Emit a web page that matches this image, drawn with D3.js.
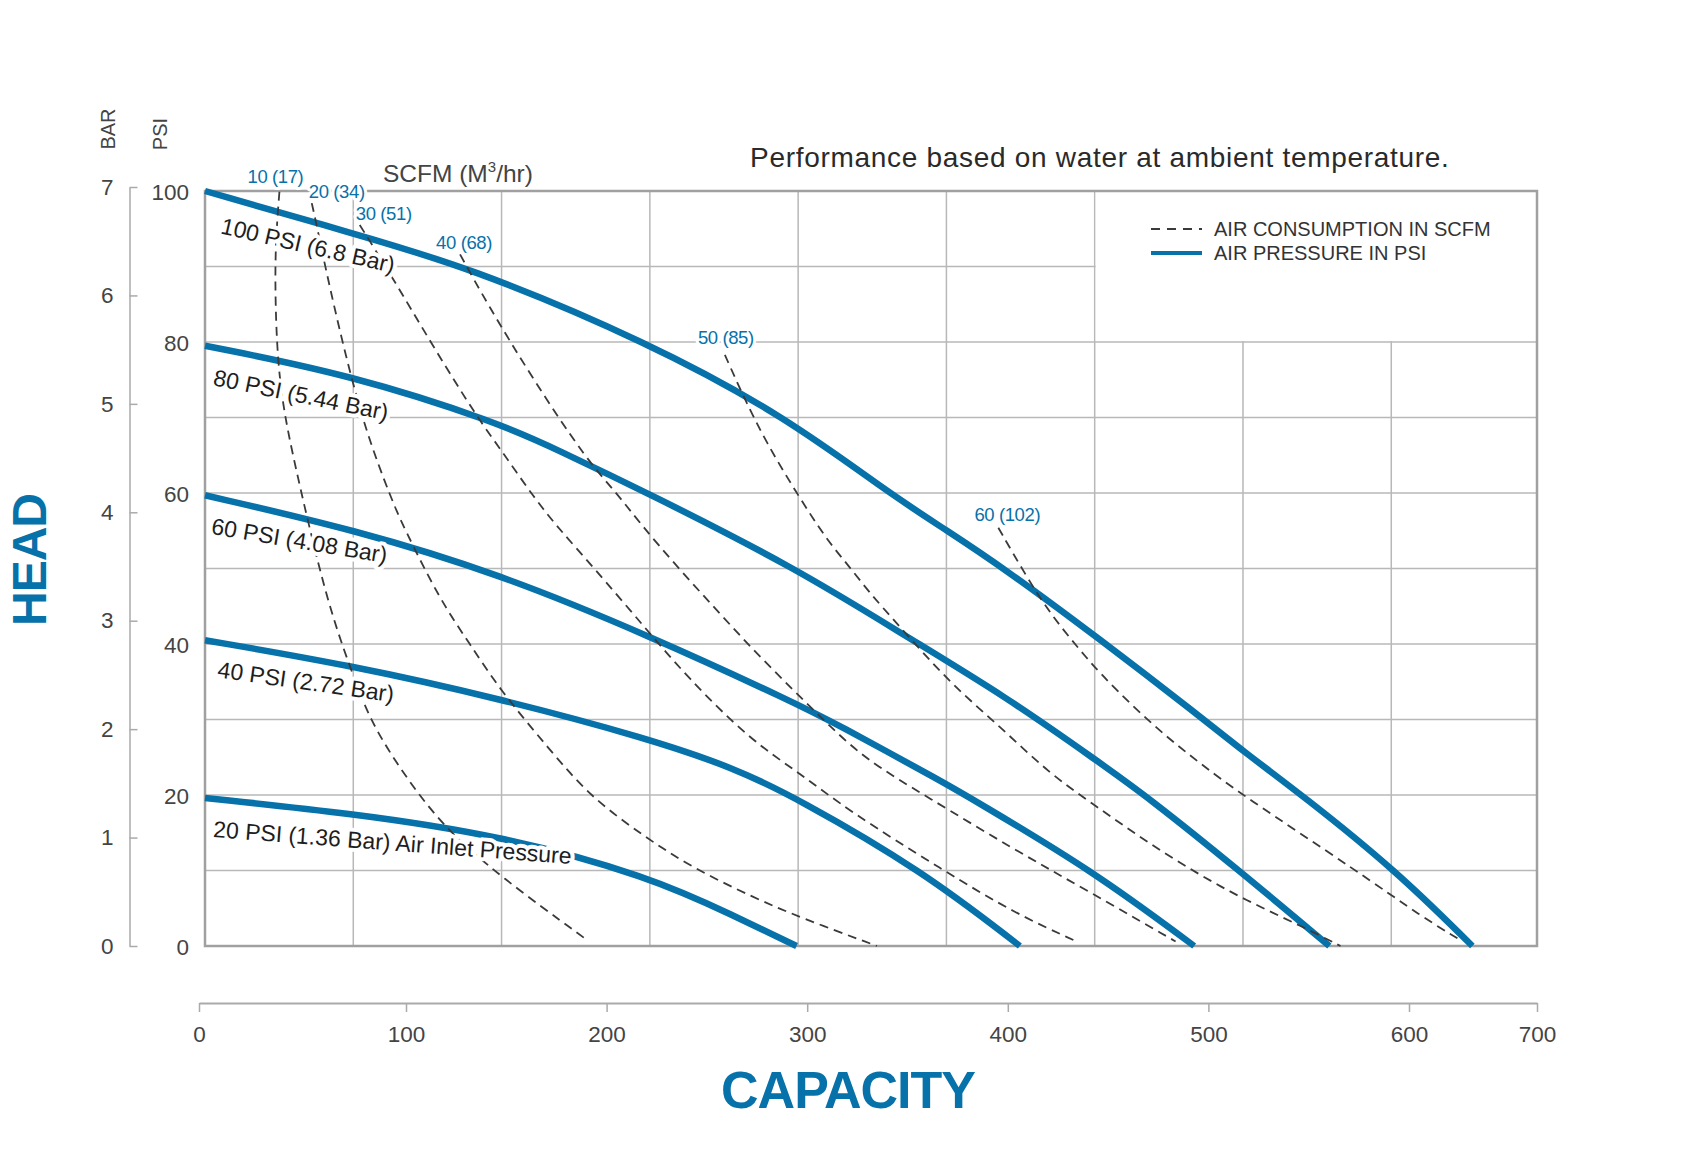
<!DOCTYPE html>
<html>
<head>
<meta charset="utf-8">
<script src="https://cdnjs.cloudflare.com/ajax/libs/d3/7.8.5/d3.min.js"></script>
<style>
body { margin: 0; background: #fff; }
svg text { font-family: "Liberation Sans", Arial, sans-serif; }
</style>
</head>
<body>
<div id="chart"></div>
<script>
// axes
var capacityTicks = [0, 100, 200, 300, 400, 500, 600, 700];
var psiTicks = [0, 20, 40, 60, 80, 100];
var barTicks = [0, 1, 2, 3, 4, 5, 6, 7];
var psiGrid = [10, 20, 30, 40, 50, 60, 70, 80, 90];
var gpmGrid = [20, 40, 60, 80, 100, 120, 140, 160];
var LPM_PER_GPM = 3.785;

// air pressure curves, [capacity, head psi]
var pressureNames = ["100 PSI (6.8 Bar)", "80 PSI (5.44 Bar)", "60 PSI (4.08 Bar)", "40 PSI (2.72 Bar)", "20 PSI (1.36 Bar) Air Inlet Pressure"];
var psi100 = [[0,100],[74,94.5],[134,90],[226,80],[297,70],[349,60],[379,55],[408,50],[455,41],[508,30.4],[531,25.6],[560,20],[608,10],[647,0]];
var psi80 = [[0,79.5],[74,75.7],[150,69.3],[180,65.7],[226,60],[302,50],[358,41],[409,33],[455,24.6],[481,19.8],[528,10],[574,0]];
var psi60 = [[0,59.7],[77,55.1],[150,49.3],[226,41.2],[302,32.1],[321,29.6],[379,21.4],[392,19.4],[453,10],[505,0]];
var psi40 = [[0,40.5],[74,37.2],[150,32.8],[226,27.5],[270,23.6],[302,19.6],[366,10],[416,0]];
var psi20 = [[0,19.6],[74,17.6],[150,14.7],[227,9.2],[270,4],[302,0]];

// air consumption curves, [capacity, head psi]
var scfmNames = ["10 (17)", "20 (34)", "30 (51)", "40 (68)", "50 (85)", "60 (102)"];
var scfm10 = [[38,99.9],[37,96.7],[35.6,90.5],[36.4,79.9],[39.3,72],[46,63.5],[62,45.8],[74,37],[84,29.9],[101,22.9],[121.5,15.8],[150.6,9.2],[195,0.8]];
var scfm20 = [[54.5,98.4],[57,95.5],[61.5,89.8],[70.6,79.4],[81.7,68.4],[95.3,59.1],[101.2,55.6],[120,45.8],[135,40.1],[150.6,33.9],[176,26],[196.5,19.8],[223.7,14.6],[248.5,10.4],[281,6.3],[303.7,3.8],[343,0]];
var scfm30 = [[79,95.5],[94.4,89.1],[116.5,79.4],[138.7,70.1],[152.3,65.3],[167.6,59.5],[181.2,55.1],[196.5,50.7],[225.5,41.9],[245.9,35.7],[278.2,27.3],[303.7,22.9],[328,18],[377,10],[413.6,4.3],[445,0.6]];
var scfm40 = [[130.2,91.6],[143.8,85.2],[167.6,75],[194.8,64.4],[210.2,60],[222,56],[240.8,50.3],[261.2,44.5],[279.9,39.2],[300.3,33.9],[319,29.1],[337.8,24.6],[368.4,19.8],[413.6,12.7],[450,7.4],[495.5,0.6]];
var scfm50 = [[265.4,78.3],[274.8,72.8],[286.7,66.6],[302,60],[317.4,53.8],[327.6,50.7],[339.5,46.7],[353,42.8],[380.3,34.8],[405.8,29.1],[430.7,22.9],[455,18.5],[479.6,14],[506.4,9.6],[531,6.1],[560,2.6],[579.7,0]];
var scfm60 = [[405,55.4],[419.4,48.9],[431.3,44.1],[445,39.7],[456.9,36.1],[473.9,31.7],[490.9,27.7],[508,24.2],[528.3,20.2],[589.5,9.7],[621,3.9],[642,0.6]];

var pressureCurves = [psi100, psi80, psi60, psi40, psi20];
var scfmCurves = [scfm10, scfm20, scfm30, scfm40, scfm50, scfm60];

// layout
var width = 1695, height = 1149;
var plot = {left: 205, right: 1537, top: 191, bottom: 946};
var blue = "#0771aa";
var pressureLabelPos = [[52.6, 92.8, 13], [49, 73, 11.5], [48.2, 53.7, 9.5], [51.5, 35, 8], [95.7, 13.7, 4.3]];
var scfmLabelOffset = [[-4, -15], [25, -12], [24, -11], [4, -12], [1, -17], [9, -13]];

var svg = d3.select("#chart").append("svg")
    .attr("width", width)
    .attr("height", height);

var x = d3.scaleLinear().domain([0, 680]).range([plot.left, plot.right]);
var y = d3.scaleLinear().domain([0, 100]).range([plot.bottom, plot.top]);
var yBar = d3.scaleLinear().domain([0, 7]).range([plot.bottom, 187]);
// the printed capacity scale is not evenly spaced at its ends
var xCap = d3.scaleLinear().domain([0, 100, 600, 700]).range([199, 406, 1409, 1537]);

// grid
var grid = svg.append("g").attr("stroke", "#b8b8b8").attr("stroke-width", 1.5);
grid.selectAll(".gy").data(psiGrid).enter().append("line")
    .attr("x1", plot.left).attr("x2", plot.right)
    .attr("y1", function(d){ return y(d); })
    .attr("y2", function(d){ return y(d); });
grid.selectAll(".gx").data(gpmGrid).enter().append("line")
    .attr("x1", function(d){ return x(d * LPM_PER_GPM); })
    .attr("x2", function(d){ return x(d * LPM_PER_GPM); })
    .attr("y1", plot.top).attr("y2", plot.bottom);

// blank area behind the legend
svg.append("rect")
    .attr("x", x(120 * LPM_PER_GPM) + 1)
    .attr("y", plot.top)
    .attr("width", plot.right - x(120 * LPM_PER_GPM) - 1)
    .attr("height", y(80) - plot.top - 1)
    .attr("fill", "#fff");

svg.append("rect")
    .attr("x", plot.left).attr("y", plot.top)
    .attr("width", plot.right - plot.left)
    .attr("height", plot.bottom - plot.top)
    .attr("fill", "none")
    .attr("stroke", "#a0a0a0")
    .attr("stroke-width", 2.5);

var line = d3.line()
    .x(function(d){ return x(d[0]); })
    .y(function(d){ return y(d[1]); })
    .curve(d3.curveBasis);

svg.append("g").selectAll("path")
    .data(pressureCurves)
    .enter().append("path")
    .attr("d", line)
    .attr("fill", "none")
    .attr("stroke", blue)
    .attr("stroke-width", 6.5);

svg.append("g").selectAll("path")
    .data(scfmCurves)
    .enter().append("path")
    .attr("d", line)
    .attr("fill", "none")
    .attr("stroke", "#3a3a3a")
    .attr("stroke-width", 1.8)
    .attr("stroke-dasharray", "9,6");

// pressure labels
svg.append("g").selectAll("text")
    .data(pressureNames)
    .enter().append("text")
    .attr("transform", function(d, i){
        var p = pressureLabelPos[i];
        return "translate(" + x(p[0]) + "," + y(p[1]) + ") rotate(" + p[2] + ")";
    })
    .attr("text-anchor", "middle")
    .attr("dominant-baseline", "central")
    .attr("font-size", 23)
    .attr("fill", "#1e1e1e")
    .attr("stroke", "#fff")
    .attr("stroke-width", 8)
    .attr("stroke-linejoin", "round")
    .attr("paint-order", "stroke")
    .text(function(d){ return d; });

// scfm labels
svg.append("g").selectAll("text")
    .data(scfmNames)
    .enter().append("text")
    .attr("x", function(d, i){ return x(scfmCurves[i][0][0]) + scfmLabelOffset[i][0]; })
    .attr("y", function(d, i){ return y(scfmCurves[i][0][1]) + scfmLabelOffset[i][1]; })
    .attr("text-anchor", "middle")
    .attr("dominant-baseline", "central")
    .attr("font-size", 18.5)
    .attr("letter-spacing", -0.4)
    .attr("fill", blue)
    .attr("stroke", "#fff")
    .attr("stroke-width", 6)
    .attr("stroke-linejoin", "round")
    .attr("paint-order", "stroke")
    .text(function(d){ return d; });

// psi axis (labels only)
var psiAxis = svg.append("g")
    .attr("transform", "translate(189,0)")
    .call(d3.axisLeft(y).tickValues(psiTicks).tickSize(0).tickPadding(0));
psiAxis.select(".domain").remove();

// bar axis
var barAxis = svg.append("g")
    .attr("transform", "translate(129.5,0)")
    .call(d3.axisLeft(yBar).tickValues(barTicks).tickFormat(d3.format("d"))
        .tickSize(-8).tickSizeOuter(0).tickPadding(16));
barAxis.selectAll("line").attr("stroke", "#aaa").attr("stroke-width", 1.5);
barAxis.select(".domain").attr("stroke", "#aaa").attr("stroke-width", 1.5);

// capacity axis
var capAxis = svg.append("g")
    .attr("transform", "translate(0,1003)")
    .call(d3.axisBottom(xCap).tickValues(capacityTicks).tickSize(9).tickSizeOuter(0).tickPadding(14));
capAxis.selectAll("line").attr("stroke", "#aaa").attr("stroke-width", 1.5);
capAxis.select(".domain").attr("stroke", "#aaa").attr("stroke-width", 2);

svg.selectAll(".tick text")
    .attr("font-size", 22.5)
    .attr("fill", "#444")
    .style("font-family", "'Liberation Sans', Arial, sans-serif");
psiAxis.selectAll(".tick text").attr("dy", "0.36em");

// unit labels
svg.append("text")
    .attr("transform", "translate(115,129) rotate(-90)")
    .attr("text-anchor", "middle")
    .attr("font-size", 20)
    .attr("fill", "#444")
    .text("BAR");
svg.append("text")
    .attr("transform", "translate(167,134) rotate(-90)")
    .attr("text-anchor", "middle")
    .attr("font-size", 20)
    .attr("fill", "#444")
    .text("PSI");

var scfmTitle = svg.append("text")
    .attr("x", 383).attr("y", 182)
    .attr("font-size", 24.5)
    .attr("fill", "#444")
    .text("SCFM (M");
scfmTitle.append("tspan").attr("font-size", 15).attr("dy", -10).text("3");
scfmTitle.append("tspan").attr("dy", 10).text("/hr)");

svg.append("text")
    .attr("x", 750).attr("y", 167)
    .attr("font-size", 28)
    .attr("letter-spacing", 0.7)
    .attr("fill", "#2a2a2a")
    .text("Performance based on water at ambient temperature.");

svg.append("text")
    .attr("transform", "translate(46,560) rotate(-90)")
    .attr("text-anchor", "middle")
    .attr("font-size", 48)
    .attr("font-weight", "bold")
    .attr("letter-spacing", -1)
    .attr("fill", blue)
    .text("HEAD");

svg.append("text")
    .attr("x", 848).attr("y", 1108)
    .attr("text-anchor", "middle")
    .attr("font-size", 52)
    .attr("font-weight", "bold")
    .attr("letter-spacing", -1)
    .attr("fill", blue)
    .text("CAPACITY");

// legend
var legend = svg.append("g");
legend.append("line")
    .attr("x1", 1151).attr("x2", 1202).attr("y1", 229).attr("y2", 229)
    .attr("stroke", "#3a3a3a").attr("stroke-width", 1.8).attr("stroke-dasharray", "9,7");
legend.append("line")
    .attr("x1", 1151).attr("x2", 1202).attr("y1", 253).attr("y2", 253)
    .attr("stroke", blue).attr("stroke-width", 4);
legend.append("text")
    .attr("x", 1214).attr("y", 229).attr("dy", "0.36em")
    .attr("font-size", 20).attr("fill", "#333")
    .text("AIR CONSUMPTION IN SCFM");
legend.append("text")
    .attr("x", 1214).attr("y", 253).attr("dy", "0.36em")
    .attr("font-size", 20).attr("fill", "#333")
    .text("AIR PRESSURE IN PSI");
</script>
</body>
</html>
